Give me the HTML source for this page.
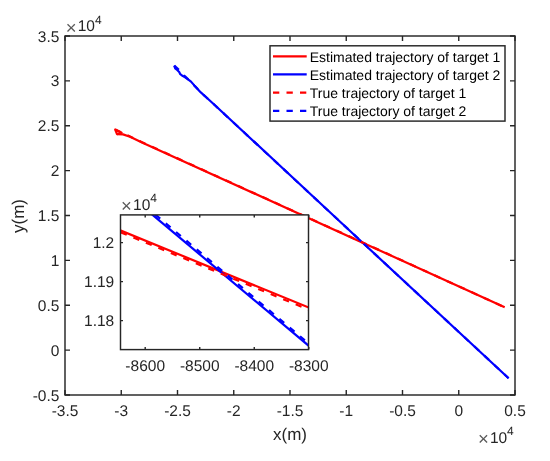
<!DOCTYPE html>
<html><head><meta charset="utf-8"><style>
html,body{margin:0;padding:0;background:#fff;width:550px;height:461px;overflow:hidden}
svg text{font-family:'Liberation Sans', Arial, Helvetica, sans-serif;text-rendering:geometricPrecision}
</style></head><body>
<svg width="550" height="461" viewBox="0 0 550 461" style="display:block"><rect x="0" y="0" width="550" height="461" fill="#fff"/><path d="M65.00,395V390M65.00,36V41M121.25,395V390M121.25,36V41M177.50,395V390M177.50,36V41M233.75,395V390M233.75,36V41M290.00,395V390M290.00,36V41M346.25,395V390M346.25,36V41M402.50,395V390M402.50,36V41M458.75,395V390M458.75,36V41M515.00,395V390M515.00,36V41M65,395.00H70M515,395.00H510M65,350.12H70M515,350.12H510M65,305.25H70M515,305.25H510M65,260.38H70M515,260.38H510M65,215.50H70M515,215.50H510M65,170.62H70M515,170.62H510M65,125.75H70M515,125.75H510M65,80.88H70M515,80.88H510M65,36.00H70M515,36.00H510" stroke="#262626" stroke-width="1.4" fill="none"/><text x="65.00" y="416.3" font-size="15.5" text-anchor="middle" fill="#262626">-3.5</text><text x="121.25" y="416.3" font-size="15.5" text-anchor="middle" fill="#262626">-3</text><text x="177.50" y="416.3" font-size="15.5" text-anchor="middle" fill="#262626">-2.5</text><text x="233.75" y="416.3" font-size="15.5" text-anchor="middle" fill="#262626">-2</text><text x="290.00" y="416.3" font-size="15.5" text-anchor="middle" fill="#262626">-1.5</text><text x="346.25" y="416.3" font-size="15.5" text-anchor="middle" fill="#262626">-1</text><text x="402.50" y="416.3" font-size="15.5" text-anchor="middle" fill="#262626">-0.5</text><text x="458.75" y="416.3" font-size="15.5" text-anchor="middle" fill="#262626">0</text><text x="515.00" y="416.3" font-size="15.5" text-anchor="middle" fill="#262626">0.5</text><text x="59.4" y="400.50" font-size="15.5" text-anchor="end" fill="#262626">-0.5</text><text x="59.4" y="355.62" font-size="15.5" text-anchor="end" fill="#262626">0</text><text x="59.4" y="310.75" font-size="15.5" text-anchor="end" fill="#262626">0.5</text><text x="59.4" y="265.88" font-size="15.5" text-anchor="end" fill="#262626">1</text><text x="59.4" y="221.00" font-size="15.5" text-anchor="end" fill="#262626">1.5</text><text x="59.4" y="176.12" font-size="15.5" text-anchor="end" fill="#262626">2</text><text x="59.4" y="131.25" font-size="15.5" text-anchor="end" fill="#262626">2.5</text><text x="59.4" y="86.38" font-size="15.5" text-anchor="end" fill="#262626">3</text><text x="59.4" y="41.50" font-size="15.5" text-anchor="end" fill="#262626">3.5</text><text x="65.70" y="33.70" font-size="18.5" fill="#5a5a5a">×</text><text x="77.70" y="31.30" font-size="15.5" fill="#262626">10</text><text x="94.90" y="23.80" font-size="12" fill="#262626">4</text><text x="477.90" y="444.90" font-size="18.5" fill="#5a5a5a">×</text><text x="489.90" y="442.50" font-size="15.5" fill="#262626">10</text><text x="507.10" y="435.00" font-size="12" fill="#262626">4</text><text x="290" y="439.5" font-size="17" text-anchor="middle" fill="#262626">x(m)</text><text transform="translate(23.5,216) rotate(-90)" x="0" y="0" font-size="17" text-anchor="middle" fill="#262626">y(m)</text><path d="M117.00,134.20L123.00,134.40L130.00,136.70L142.00,142.40L362.70,242.70L504.70,307.30" stroke="#ff0000" stroke-width="2.2" fill="none" stroke-linejoin="round"/><path d="M174.20,65.60L175.20,68.30L177.20,70.00L179.20,72.00L180.30,74.20L182.50,75.80L185.10,77.40L188.70,79.80L191.00,81.60L194.30,85.40L200.80,92.40L206.20,97.30L214.40,104.80L362.70,242.70L508.60,378.20" stroke="#0000ff" stroke-width="2.2" fill="none" stroke-linejoin="round"/><path d="M115.2,129.6L121.6,132.7L117.0,134.1Z" stroke="#ff0000" stroke-width="2.2" fill="none" stroke-linejoin="round"/><path d="M115.2,129.6L123.0,133.2L130.0,136.5L142.0,142.2L362.7,242.5L504.7,307.3" stroke="#ff0000" stroke-width="2.2" fill="none" stroke-dasharray="6.3 7.2"/><path d="M174.3,65.5L179.0,69.9L182.6,74.2L185.6,76.9L188.7,79.8L191.0,81.6L194.3,85.4L200.8,92.4L206.2,97.3L214.4,104.8L362.7,242.7L508.6,378.2" stroke="#0000ff" stroke-width="2.2" fill="none" stroke-dasharray="6.3 7.4"/><rect x="65" y="36" width="450" height="359" fill="none" stroke="#262626" stroke-width="1.45"/><rect x="270" y="45.8" width="235" height="75.3" fill="#fff" stroke="#262626" stroke-width="1.45"/><path d="M273,56.35H306.7" stroke="#ff0000" stroke-width="2.2" fill="none"/><text x="309.7" y="61.6" font-size="14" fill="#000">Estimated trajectory of target 1</text><path d="M273,74.45H306.7" stroke="#0000ff" stroke-width="2.2" fill="none"/><text x="309.7" y="79.8" font-size="14" fill="#000">Estimated trajectory of target 2</text><path d="M273,92.7H306.7" stroke="#ff0000" stroke-width="2.2" fill="none" stroke-dasharray="6.3 7.2"/><text x="309.7" y="98.0" font-size="14" fill="#000">True trajectory of target 1</text><path d="M273,110.9H306.7" stroke="#0000ff" stroke-width="2.2" fill="none" stroke-dasharray="6.3 7.2"/><text x="309.7" y="116.2" font-size="14" fill="#000">True trajectory of target 2</text><rect x="120.5" y="214.9" width="188.0" height="134.70000000000002" fill="#fff"/><clipPath id="ic"><rect x="120.5" y="214.9" width="188.0" height="134.70000000000002"/></clipPath><g clip-path="url(#ic)"><path d="M110,226.09L320,312.19" stroke="#ff0000" stroke-width="2.2" fill="none"/><path d="M140,204.36L320,355.20" stroke="#0000ff" stroke-width="2.2" fill="none"/><path d="M108.43,227.27L330,318.47" stroke="#ff0000" stroke-width="2.2" fill="none" stroke-dasharray="6.3 7.2"/><path d="M145.04,205.91L330,361.46" stroke="#0000ff" stroke-width="2.2" fill="none" stroke-dasharray="6.3 7.2"/></g><path d="M145.20,349.6V347.1M145.20,214.9V217.4M199.73,349.6V347.1M199.73,214.9V217.4M254.26,349.6V347.1M254.26,214.9V217.4M308.79,349.6V347.1M308.79,214.9V217.4M120.5,320.60H123.0M308.5,320.60H306.0M120.5,281.60H123.0M308.5,281.60H306.0M120.5,242.60H123.0M308.5,242.60H306.0" stroke="#262626" stroke-width="1.4" fill="none"/><rect x="120.5" y="214.9" width="188.0" height="134.70000000000002" fill="none" stroke="#262626" stroke-width="1.45"/><text x="145.20" y="371" font-size="15.5" text-anchor="middle" fill="#262626">-8600</text><text x="199.73" y="371" font-size="15.5" text-anchor="middle" fill="#262626">-8500</text><text x="254.26" y="371" font-size="15.5" text-anchor="middle" fill="#262626">-8400</text><text x="308.79" y="371" font-size="15.5" text-anchor="middle" fill="#262626">-8300</text><text x="114.2" y="326.30" font-size="15.5" text-anchor="end" fill="#262626">1.18</text><text x="114.2" y="287.30" font-size="15.5" text-anchor="end" fill="#262626">1.19</text><text x="114.2" y="248.30" font-size="15.5" text-anchor="end" fill="#262626">1.2</text><text x="121.10" y="212.30" font-size="18.5" fill="#5a5a5a">×</text><text x="133.10" y="209.90" font-size="15.5" fill="#262626">10</text><text x="150.30" y="202.40" font-size="12" fill="#262626">4</text></svg>
</body></html>
